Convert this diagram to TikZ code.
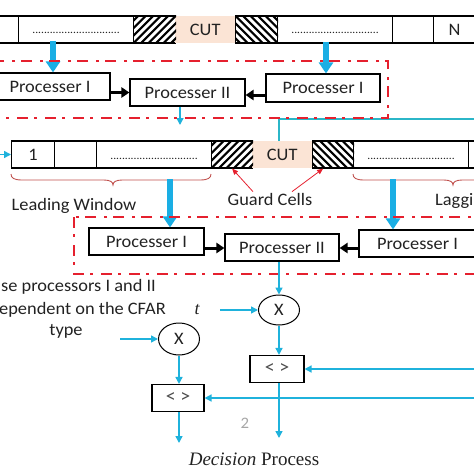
\documentclass[tikz,border=0pt]{standalone}
\usepackage{fontspec}
\setmainfont{Carlito}[FakeStretch=1.05]
\newfontfamily\serf{Liberation Serif}
\usetikzlibrary{arrows.meta,shapes.geometric}
\definecolor{tblue}{HTML}{1FB2DC}
\definecolor{kblue}{HTML}{1AAEE4}
\definecolor{teal2}{HTML}{2BB6C8}
\definecolor{rdash}{HTML}{E5202E}
\definecolor{cutfill}{HTML}{FBE4D5}
\definecolor{bracecol}{HTML}{C0504D}
\definecolor{txt}{HTML}{222222}
\newcommand\mydots{\fontsize{11}{12}\selectfont..............................}
\begin{document}
\begin{tikzpicture}[x=1pt,y=-1pt,
  every node/.style={font=\fontsize{17.5}{20}\selectfont, text=txt, inner sep=0pt},
  cell/.style={draw=black, line width=1.2pt, minimum height=27pt, anchor=west},
  cutcell/.style={fill=cutfill, minimum height=27pt, anchor=west},
  pbox/.style={draw=black, line width=1.1pt, minimum height=27pt, fill=white},
  hatchline/.style={line width=2pt, black},
  rframe/.style={draw=rdash, line width=1.8pt, dash pattern=on 11pt off 6pt on 3pt off 8pt},
  kthick/.style={draw=kblue, line width=5.5pt, -{Triangle[length=11pt,width=14pt]}},
  tarr/.style={draw=tblue, line width=1.5pt, -{Triangle[length=7pt,width=7pt]}},
  blk/.style={draw=black, line width=3pt, -{Triangle[length=8pt,width=10pt]}},
  rarr/.style={draw=rdash, line width=0.8pt, -{Triangle[length=6pt,width=5pt]}},
  bracestyle/.style={draw=bracecol, line width=0.9pt},
  xnode/.style={draw=black, line width=1pt, ellipse, minimum width=41pt, minimum height=30pt, fill=white},
  cmpbox/.style={draw=black, line width=1.1pt, minimum height=27pt, fill=white, text=black!70, font=\fontsize{19}{20}\selectfont}
]
\useasboundingbox (0,0) rectangle (474,474);
\clip (0,0) rectangle (474,474);

% ---------- row 1 ----------
\node[cell, minimum width=38pt]  (c1) at (-20,29.5) {};
\node[cell, minimum width=115pt] (c2) at (18,29.5) {};
\node[cell, minimum width=42pt]  (c3) at (133,29.5) {};
\node[cutcell, minimum width=60pt] (c4) at (175,29.5) {CUT};
\node[cell, minimum width=42pt]  (c5) at (235,29.5) {};
\node[cell, minimum width=115pt] (c6) at (277,29.5) {};
\node[cell, minimum width=41pt]  (c7) at (392,29.5) {};
\node[cell, minimum width=42pt]  (c8) at (433,29.5) {N};
\node (c2t) at ([yshift=-3.5pt]c2.center) {\mydots};
\node (c6t) at ([yshift=-3.5pt]c6.center) {\mydots};

% ---------- row 2 ----------
\node[cell, minimum width=43pt]  (d1) at (11,154.5) {1};
\node[cell, minimum width=42pt]  (d2) at (54,154.5) {};
\node[cell, minimum width=115pt] (d3) at (96,154.5) {};
\node[cell, minimum width=41pt]  (d4) at (211,154.5) {};
\node[cutcell, minimum width=60pt] (d5) at (252,154.5) {CUT};
\node[cell, minimum width=41pt]  (d6) at (312,154.5) {};
\node[cell, minimum width=115pt] (d7) at (353,154.5) {};
\node[cell, minimum width=40pt]  (d8) at (468,154.5) {};
\node (d3t) at ([yshift=-4pt]d3.center) {\mydots};
\node (d7t) at ([yshift=-4pt]d7.center) {\mydots};

% hatching
\foreach \n in {c3,d4}{
  \begin{scope}
    \clip (\n.south west) rectangle (\n.north east);
    \foreach \k in {-30,-22.5,...,45}
      \draw[hatchline] ([xshift=\k pt]\n.south west) -- ++(30,-30);
  \end{scope}
}
\foreach \n in {c5,d6}{
  \begin{scope}
    \clip (\n.south west) rectangle (\n.north east);
    \foreach \k in {-30,-22.5,...,45}
      \draw[hatchline] ([xshift=\k pt]\n.north west) -- ++(30,30);
  \end{scope}
}

% ---------- processors row 1 ----------
\node[pbox, minimum width=120pt] (pIa)  at (50,86.5)  {Processer I};
\node[pbox, minimum width=115pt] (pIIa) at (187.5,92.5) {Processer II};
\node[pbox, minimum width=114pt, minimum height=28pt] (pIb) at (323,88) {Processer I};

\coordinate (ka) at (53,41);
\coordinate (kb) at (326,42);
\draw[kthick] (ka) -- (ka |- pIa.north);
\draw[kthick] (kb) -- (kb |- pIb.north);
\draw[blk] (pIa.east |- pIIa.west) -- (pIIa.west);
\draw[blk] (pIb.west |- 0,95) -- (pIIa.east |- 0,95);
\coordinate (pIIaout) at (180,125);
\draw[tarr] (pIIa.south -| pIIaout) -- (pIIaout);

% teal connector into CUT of row 2
\coordinate (tealR) at (480,119);
\coordinate (tealC) at (279,119);
\draw[teal2, line width=1.3pt] (tealR) -- (tealC) -- (tealC |- d5.north);

% left input into cell 1
\coordinate (inL) at (-6,154.5);
\draw[tarr] (inL) -- (d1.west);

% braces
\draw[bracestyle] (11,174) .. controls (11,178) and (14,180) .. (22,180) -- (104,180)
  .. controls (110,180) and (113,182) .. (113,185)
  .. controls (113,182) and (116,180) .. (122,180) -- (200,180)
  .. controls (208,180) and (211,178) .. (211,174);
\draw[bracestyle] (353,174) .. controls (353,178) and (356,180) .. (364,180) -- (444,180)
  .. controls (450,180) and (453,182) .. (453,185)
  .. controls (453,182) and (456,180) .. (462,180) -- (540,180)
  .. controls (548,180) and (551,178) .. (551,174);

% labels row 2
\node (lw) at (74,206) {Leading Window};
\node[anchor=west] (lag) at (435,201) {Laggi};
\node (gc) at (270,199) {Guard Cells};
\draw[rarr] ([xshift=-17pt,yshift=1pt]gc.north) -- (d4.south);
\draw[rarr] ([xshift=22pt,yshift=1pt]gc.north) -- ([xshift=-10pt]d6.south);

% ---------- processors row 2 ----------
\node[pbox, minimum width=115pt] (pIc)  at (146.5,241.5) {Processer I};
\node[pbox, minimum width=114pt] (pIIc) at (282,247.5) {Processer II};
\node[pbox, minimum width=117pt] (pId)  at (417.5,243.5) {Processer I};

\coordinate (kc) at (170,179);
\coordinate (kd) at (393,179);
\draw[kthick] (kc) -- (kc |- pIc.north);
\draw[kthick] (kd) -- (kd |- pId.north);
\draw[blk] (pIc.east |- 0,248) -- (pIIc.west |- 0,248);
\draw[blk] (pId.west |- 0,248) -- (pIIc.east |- 0,248);

% frames
\draw[rframe] (-10,61) rectangle (388,118);
\draw[rframe] (74,217) rectangle (490,274);

% ---------- lower part ----------
\node[xnode] (X1) at (279,310) {X};
\node[xnode, minimum height=32pt] (X2) at (179,339) {X};
\node[cmpbox, minimum width=54pt] (b1) at (277,369) {< >};
\node[cmpbox, minimum width=52pt] (b2) at (178,398) {< >};

\draw[tarr] (X1 |- pIIc.south) -- (X1.north);
\coordinate (tin) at (220,310);
\draw[tarr] (tin) -- (X1.west);
\coordinate (xin) at (120,339);
\draw[tarr] (xin) -- (X2.west);
\draw[tarr] (X1.south) -- (X1.south |- b1.north);
\draw[tarr] (X2.south) -- (X2.south |- b2.north);
\coordinate (r1) at (480,369);
\coordinate (r2) at (480,398);
\draw[tarr] (r1) -- (b1.east);
\draw[tarr] (r2) -- (b2.east);
\coordinate (o1) at (279,438);
\coordinate (o2) at (179,443);
\draw[tarr] (b1.south -| o1) -- (o1);
\draw[tarr] (b2.south -| o2) -- (o2);

% texts
\node[anchor=west] (t1) at (1,287) {se processors I and II};
\node[anchor=west] (t2) at (-1,310) {ependent on the CFAR};
\node (t3) at (66,331) {type};
\node (tt) at (197,310) {\serf\itshape\fontsize{18}{20}\selectfont t};
\node[text=gray!70] (two) at (245,423) {\fontsize{16}{18}\selectfont 2};
\node (dp) at (254,459) {\serf\fontsize{19}{22}\selectfont\textit{Decision} Process};
\end{tikzpicture}
\end{document}
